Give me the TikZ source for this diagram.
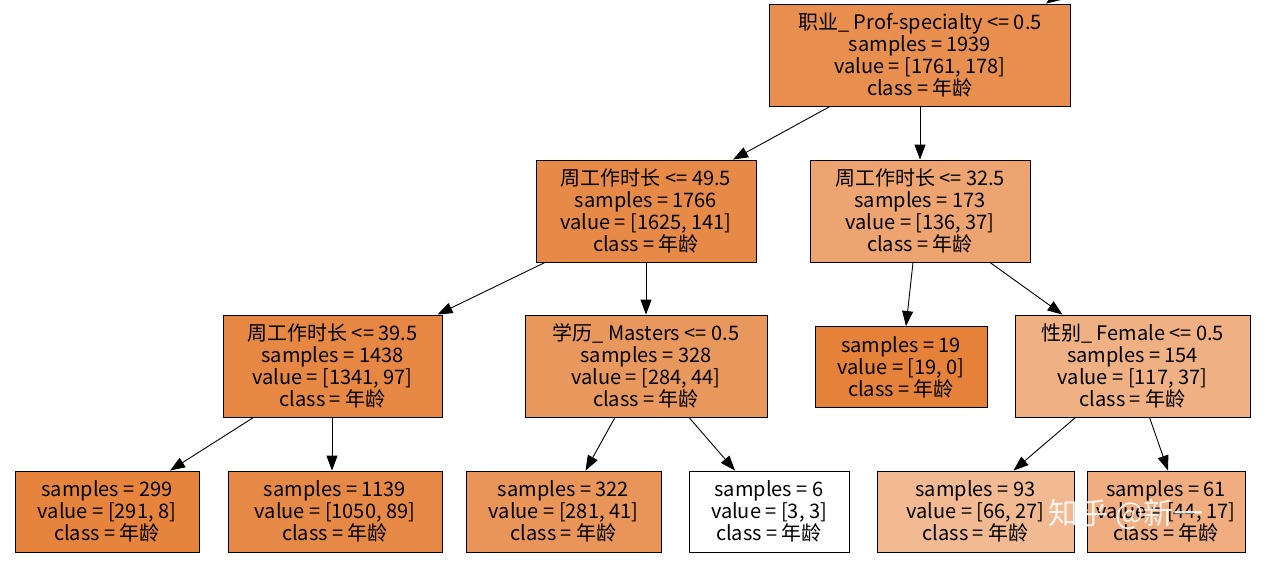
\documentclass[tikz,border=0pt]{standalone}
\usepackage{fontspec}
\setmainfont{Noto Sans CJK SC}
\usetikzlibrary{arrows.meta}
\begin{document}
\begin{tikzpicture}[x=1pt,y=-1pt,
  box/.style={draw,line width=0.9pt,align=center,inner sep=0pt,minimum height=102pt,font=\fontsize{20}{22}\selectfont},
  leaf/.style={box,minimum height=81pt},
  arr/.style={line width=0.9pt,-{Triangle[length=15pt,width=11pt]}}]
\useasboundingbox (0,0) rectangle (1284,568);
\definecolor{c0}{HTML}{E88F4F}\definecolor{c1}{HTML}{E78A48}\definecolor{c2}{HTML}{EDA470}
\definecolor{c3}{HTML}{E68743}\definecolor{c4}{HTML}{E9985D}\definecolor{c5}{HTML}{E58139}
\definecolor{c6}{HTML}{EFB083}\definecolor{c7}{HTML}{E6843E}\definecolor{c8}{HTML}{E78946}
\definecolor{c9}{HTML}{E99559}\definecolor{c10}{HTML}{F1BA92}\definecolor{c11}{HTML}{EFAD80}
\node[box,fill=c0,minimum width=301pt] (root) at (920,55) {职业\_ Prof-specialty <= 0.5\\samples = 1939\\value = [1761, 178]\\class = 年龄};
\node[box,fill=c1,minimum width=220pt] (n1) at (646,211) {周工作时长 <= 49.5\\samples = 1766\\value = [1625, 141]\\class = 年龄};
\node[box,fill=c2,minimum width=220pt] (n2) at (920,211) {周工作时长 <= 32.5\\samples = 173\\value = [136, 37]\\class = 年龄};
\node[box,fill=c3,minimum width=219pt] (l1) at (332.5,366) {周工作时长 <= 39.5\\samples = 1438\\value = [1341, 97]\\class = 年龄};
\node[box,fill=c4,minimum width=242pt] (l2) at (646,366) {学历\_ Masters <= 0.5\\samples = 328\\value = [284, 44]\\class = 年龄};
\node[leaf,fill=c5,minimum width=172pt] (n3) at (901,367) {samples = 19\\value = [19, 0]\\class = 年龄};
\node[box,fill=c6,minimum width=235pt] (n4) at (1132.5,366) {性别\_ Female <= 0.5\\samples = 154\\value = [117, 37]\\class = 年龄};
\node[leaf,fill=c7,minimum width=184pt] (a) at (107,511.5) {samples = 299\\value = [291, 8]\\class = 年龄};
\node[leaf,fill=c8,minimum width=214pt] (b) at (335,511.5) {samples = 1139\\value = [1050, 89]\\class = 年龄};
\node[leaf,fill=c9,minimum width=195pt] (c) at (563.5,511.5) {samples = 322\\value = [281, 41]\\class = 年龄};
\node[leaf,fill=white,minimum width=160pt] (d) at (769,511.5) {samples = 6\\value = [3, 3]\\class = 年龄};
\node[leaf,fill=c10,minimum width=197pt] (e) at (975.5,511.5) {samples = 93\\value = [66, 27]\\class = 年龄};
\node[leaf,fill=c11,minimum width=158pt] (f) at (1166,511.5) {samples = 61\\value = [44, 17]\\class = 年龄};
\coordinate (top) at (1072,-14);
\draw[arr] (top) -- ([xshift=126pt]root.north);
\draw[arr] ([xshift=-90pt]root.south) -- ([xshift=87pt]n1.north);
\draw[arr] (root.south) -- (n2.north);
\draw[arr] ([xshift=-101pt]n1.south) -- ([xshift=105pt]l1.north);
\draw[arr] (n1.south) -- (l2.north);
\draw[arr] ([xshift=-7pt]n2.south) -- ([xshift=5pt]n3.north);
\draw[arr] ([xshift=70pt]n2.south) -- ([xshift=-70pt]n4.north);
\draw[arr] ([xshift=-79pt]l1.south) -- ([xshift=63pt]a.north);
\draw[arr] ([xshift=-0.5pt]l1.south) -- ([xshift=-3pt]b.north);
\draw[arr] ([xshift=-31pt]l2.south) -- ([xshift=22pt]c.north);
\draw[arr] ([xshift=43pt]l2.south) -- ([xshift=-34pt]d.north);
\draw[arr] ([xshift=-57pt]n4.south) -- ([xshift=38pt]e.north);
\draw[arr] ([xshift=17pt]n4.south) -- ([xshift=2pt]f.north);
\node[text=white,opacity=0.85,font=\fontsize{30}{32}\selectfont,anchor=west] (wm) at (1045,514) {知乎 @新一};
\end{tikzpicture}
\end{document}
